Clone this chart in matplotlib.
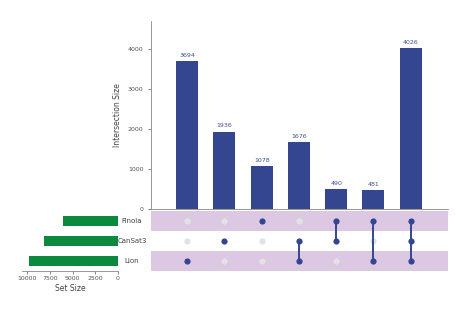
import matplotlib.pyplot as plt
import numpy as np

# data
sets = ['Finola', 'CanSat3', 'Lion']
set_size = [6075, 8128, 9877]
inter_size = [3694, 1936, 1078, 1676, 490, 481, 4026]
# membership of each intersection (Finola, CanSat3, Lion)
members = [
    [0, 0, 1],
    [0, 1, 0],
    [1, 0, 0],
    [0, 1, 1],
    [1, 1, 0],
    [1, 0, 1],
    [1, 1, 1],
]

navy = '#34468f'
green = '#0b8a3e'
band = '#dcc8e3'
grey_dot = '#e2e2e2'
txt = '#555555'

fig = plt.figure(figsize=(4.74, 3.11), dpi=100)

# 交集柱状图
ax_bar = fig.add_axes([151/474, 1-209/311, 297/474, 188/311])
x = np.arange(len(inter_size))
ax_bar.bar(x, inter_size, width=0.59, color=navy)
for i, v in enumerate(inter_size):
    ax_bar.text(i, v + 80, str(v), ha='center', va='bottom', fontsize=4.5, color='#3f4f8f')
ax_bar.set_xlim(-0.97, 7.0)
ax_bar.set_ylim(0, 4700)
ax_bar.set_yticks([0, 1000, 2000, 3000, 4000])
ax_bar.tick_params(axis='y', labelsize=4.5, colors=txt, length=2, width=0.5)
ax_bar.set_xticks([])
for s in ['top', 'right']:
    ax_bar.spines[s].set_visible(False)
ax_bar.spines['left'].set_color('#888888')
ax_bar.spines['bottom'].set_color('#888888')
ax_bar.spines['left'].set_linewidth(0.6)
ax_bar.spines['bottom'].set_linewidth(0.6)
ax_bar.set_ylabel('Intersection Size', fontsize=5.5, color='#444444', labelpad=4)

# 矩阵
ax_m = fig.add_axes([151/474, 1-271/311, 297/474, 60/311])
ax_m.set_xlim(-0.97, 7.0)
ax_m.set_ylim(2.5, -0.5)
for r in range(len(sets)):
    if r % 2 == 0:
        ax_m.axhspan(r - 0.5, r + 0.5, color=band, lw=0)
for i, m in enumerate(members):
    on = [r for r in range(len(sets)) if m[r]]
    off = [r for r in range(len(sets)) if not m[r]]
    ax_m.scatter([i] * len(off), off, s=20, color=grey_dot, zorder=2, lw=0)
    if len(on) > 1:
        ax_m.plot([i, i], [min(on), max(on)], color=navy, lw=1.4, zorder=3)
    ax_m.scatter([i] * len(on), on, s=20, color=navy, zorder=4, lw=0)
ax_m.axis('off')

# 集合名
for r, name in enumerate(sets):
    fig.text(132/474, 1-(221 + 20*r)/311, name, ha='center', va='center',
             fontsize=5, color='#444444')

# 集合大小
ax_s = fig.add_axes([22/474, 1-271/311, 96/474, 60/311])
ax_s.barh(np.arange(len(sets)), set_size, height=0.5, color=green)
ax_s.set_ylim(2.5, -0.5)
ax_s.set_xlim(10600, 0)
ax_s.set_xticks([10000, 7500, 5000, 2500, 0])
ax_s.tick_params(axis='x', labelsize=4.5, colors=txt, length=2, width=0.5, pad=1.5)
ax_s.set_yticks([])
for s in ['top', 'right', 'left']:
    ax_s.spines[s].set_visible(False)
ax_s.spines['bottom'].set_color('#888888')
ax_s.spines['bottom'].set_linewidth(0.6)
ax_s.set_xlabel('Set Size', fontsize=5.5, color='#444444', labelpad=2)

fig.savefig('out.png', dpi=100)
